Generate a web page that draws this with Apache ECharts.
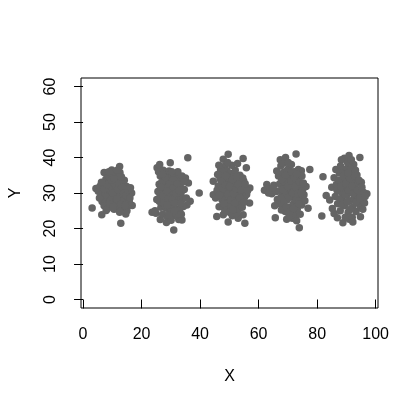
<!DOCTYPE html>
<html>
<head>
<meta charset="utf-8">
<script src="https://cdn.jsdelivr.net/npm/echarts@6/dist/echarts.min.js"></script>
<style>html,body{margin:0;padding:0;background:#fff;}#c{width:418px;height:406px;}</style>
</head>
<body>
<div id="c"></div>
<script>
const xTicks = [0, 20, 40, 60, 80, 100];
const yTicks = [0, 10, 20, 30, 40, 50, 60];
const xTitle = "X";
const yTitle = "Y";

const group10 = [[3.1,25.8],[6.4,23.9],[12.9,21.5],[14.6,24.1],[12.5,37.5],[7.2,35.8],[9.5,35.1],[16.6,30.0],[16.8,26.5],[4.4,31.3],
[5.2,30.5],[5.8,31.9],[6.1,29.4],[6.8,30.8],[7.0,32.6],[7.4,28.2],[7.8,33.9],[8.1,30.1],[8.3,27.0],[8.6,31.7],
[8.9,29.0],[9.1,34.3],[9.3,32.5],[9.6,26.2],[9.8,30.6],[10.0,28.3],[10.2,33.2],[10.4,31.1],[10.6,25.4],[10.8,29.5],
[11.0,35.0],[11.2,27.4],[11.4,32.0],[11.6,30.2],[11.8,33.8],[12.0,26.6],[12.2,28.8],[12.4,31.5],[12.6,35.8],[12.8,27.9],
[13.0,30.9],[13.2,33.0],[13.4,25.9],[13.6,29.2],[13.8,32.1],[14.0,27.1],[14.3,30.4],[14.6,28.4],[14.9,31.8],[15.2,26.3],
[15.5,29.6],[15.8,27.6],[7.6,30.0],[8.0,28.9],[9.0,31.0],[10.5,27.2],[11.1,29.0],[12.1,34.4],[13.3,28.0],[6.5,27.6],
[7.2,26.4],[8.4,25.6],[11.3,25.9],[14.1,33.6],[15.0,25.0],[5.6,28.6],[9.8,36.5],[10.9,32.7],[12.7,29.7],[8.7,34.8],
[7.3,31.2],[8.2,32.4],[9.4,28.0],[9.7,33.6],[10.1,30.0],[10.7,34.0],[11.5,28.3],[11.9,31.0],[12.3,32.7],[12.9,26.8],
[13.5,31.6],[13.9,29.9],[14.4,26.5],[14.8,29.3],[15.4,31.0],[9.2,27.0],[10.3,26.1],[6.3,33.0],[8.8,36.0],[11.7,36.4],
[13.1,34.6],[16.0,28.6],[16.2,31.5],[7.9,25.1],[12.5,24.6]];

const group30 = [[31.0,19.6],[29.8,38.5],[35.8,39.9],[39.7,30.0],[36.0,32.8],[36.6,27.7],[35.5,26.6],[23.6,24.6],[25.3,37.1],[26.2,38.0],
[28.5,21.7],[26.4,22.5],[32.7,22.5],[31.5,23.6],[33.8,22.4],[34.3,26.2],[34.9,33.3],[24.9,24.3],[25.8,36.0],[26.4,34.8],
[26.0,32.5],[26.8,30.8],[26.3,29.0],[27.0,27.4],[26.6,26.0],[27.5,33.6],[27.8,31.6],[28.0,29.8],[28.2,28.0],[28.4,25.7],
[28.7,35.1],[29.0,33.0],[29.2,31.2],[29.5,27.1],[29.7,24.6],[29.9,29.4],[30.2,34.4],[30.4,32.2],[30.6,30.4],[30.8,26.3],
[31.1,28.6],[31.3,35.0],[31.6,33.3],[31.8,31.0],[32.0,25.4],[32.3,29.2],[32.6,34.1],[32.9,27.6],[33.2,32.0],[33.5,30.0],
[33.8,34.8],[34.1,28.4],[27.2,24.0],[28.9,23.2],[30.1,22.3],[26.1,27.6],[27.4,36.4],[25.6,30.4],[29.4,36.2],[31.9,24.2],
[33.0,25.2],[34.6,31.0],[30.9,33.7],[28.3,32.4],[32.4,36.0],[27.9,26.4],[25.2,28.2],[35.0,34.2],
[26.9,33.0],[27.3,29.3],[27.7,27.1],[28.1,34.3],[28.6,30.6],[29.1,28.4],[29.6,32.5],[30.0,25.6],[30.5,28.0],[30.9,31.5],
[31.4,27.2],[31.7,29.9],[32.2,32.6],[32.8,30.7],[33.4,27.0],[27.1,35.3],[28.8,26.6],[30.3,36.0],[26.5,31.6],[29.3,23.8],
[31.2,25.0],[34.4,33.2],[35.3,28.6],[33.6,24.0],[24.6,25.0]];

const group50 = [[49.6,40.9],[47.9,39.5],[54.7,39.7],[55.8,37.1],[57.0,31.4],[56.9,27.2],[55.3,21.5],[54.7,23.9],[53.0,22.9],[49.6,21.8],
[47.9,23.9],[45.7,23.4],[49.1,25.8],[44.5,33.3],[44.5,29.5],[45.3,28.6],[48.5,37.6],[49.2,36.3],[50.4,35.5],[46.2,32.0],
[46.8,34.0],[47.2,30.6],[47.5,28.0],[47.9,32.8],[48.3,35.0],[48.6,30.0],[48.9,27.3],[49.3,33.6],[49.6,31.2],[50.0,29.0],
[50.3,26.4],[50.6,33.0],[50.9,30.6],[51.2,34.8],[51.5,28.4],[51.8,32.0],[52.1,30.2],[52.4,26.8],[52.7,33.6],[53.0,29.4],
[53.3,31.5],[53.6,35.0],[53.9,27.8],[54.2,32.6],[54.5,30.0],[54.9,33.4],[55.2,28.8],[55.6,31.0],[50.2,24.5],[51.0,23.6],
[52.4,24.2],[46.5,26.1],[48.0,26.0],[47.0,36.5],[52.0,36.4],[53.2,25.5],[45.8,30.8],[50.8,37.8],[51.6,31.6],[49.8,34.2],
[48.2,29.2],[53.8,33.8],[54.4,26.0],[55.9,29.6],[46.0,35.2],[52.8,38.3],
[46.6,29.4],[47.3,33.4],[47.7,31.4],[48.1,27.0],[48.7,32.2],[49.0,34.8],[49.4,29.6],[50.1,31.8],[50.5,28.0],[51.1,33.8],
[51.4,29.8],[51.9,27.2],[52.3,31.2],[52.6,34.6],[53.1,32.4],[53.5,28.6],[54.0,30.8],[54.6,34.2],[55.0,27.4],[55.4,32.6],
[56.2,30.6],[48.4,24.6],[49.4,38.6],[46.4,37.8],[51.3,25.2]];

const group70 = [[72.8,41.0],[69.2,40.0],[67.4,39.4],[77.5,36.6],[74.6,36.3],[76.9,25.7],[73.9,20.2],[65.7,23.0],[62.0,30.8],[62.8,32.4],
[75.5,29.5],[71.5,22.9],[72.6,23.6],[63.8,31.0],[64.5,29.8],[65.2,32.2],[66.0,30.4],[66.4,28.2],[66.8,34.8],[67.2,32.6],
[67.6,37.6],[68.0,29.2],[68.2,26.6],[68.5,35.8],[68.8,31.6],[69.1,24.8],[69.4,33.6],[69.7,28.0],[70.0,30.2],[70.2,36.8],
[70.5,26.0],[70.8,32.2],[71.1,34.6],[71.4,28.8],[71.7,24.4],[72.0,30.6],[72.3,36.0],[72.6,27.0],[72.9,33.0],[73.2,25.4],
[73.5,31.4],[73.8,34.2],[74.1,28.4],[74.4,32.4],[74.7,26.6],[75.0,30.8],[67.0,27.0],[68.4,38.4],[69.6,22.6],[70.4,23.4],
[71.2,38.0],[73.0,22.2],[74.2,24.0],[75.8,27.8],[66.2,36.2],[69.0,30.0],[71.0,31.0],[72.4,29.0],[70.6,34.0],[73.6,36.6],
[65.5,26.4],[67.8,25.2],[74.8,34.8],[63.4,30.0],[76.2,31.8],[68.6,33.2],[71.8,26.8],[69.8,36.4],
[67.1,30.6],[67.5,28.6],[67.9,33.8],[68.3,31.0],[68.7,27.6],[69.2,35.0],[69.5,26.0],[69.9,31.8],[70.3,28.8],[70.7,24.8],
[71.0,33.4],[71.3,36.0],[71.6,30.0],[71.9,25.6],[72.2,34.4],[72.5,31.8],[72.8,28.0],[73.1,35.4],[73.4,29.8],[73.7,27.0],
[74.0,33.0],[74.5,30.0],[75.3,32.8],[70.1,38.6],[64.8,31.4]];

const group90 = [[90.9,40.6],[89.3,39.8],[88.3,39.4],[94.6,40.0],[92.5,38.0],[82.0,34.6],[85.8,34.3],[81.6,23.5],[85.8,24.2],[85.2,25.6],
[88.8,21.6],[94.8,23.3],[97.0,29.8],[93.6,35.1],[83.1,29.3],[85.0,31.6],[91.0,22.6],[92.0,23.2],[84.3,28.0],[86.2,29.0],
[86.6,32.4],[87.0,27.0],[87.3,30.6],[87.6,35.6],[87.9,25.0],[88.2,33.2],[88.5,28.6],[88.8,36.4],[89.1,31.2],[89.4,26.4],
[89.7,34.0],[90.0,29.4],[90.3,37.0],[90.6,24.6],[90.9,32.4],[91.2,27.8],[91.5,35.4],[91.8,30.2],[92.1,26.0],[92.4,33.4],
[92.7,28.6],[93.0,31.4],[93.3,24.8],[93.6,29.2],[93.9,32.8],[94.2,27.0],[94.5,30.4],[94.8,26.0],[95.1,33.0],[95.4,28.4],
[95.8,30.2],[96.2,27.2],[86.4,36.6],[89.6,23.2],[90.4,38.6],[91.6,36.8],[93.1,36.4],[88.4,30.2],[92.2,21.8],[86.9,23.0],
[86.8,30.8],[87.4,33.6],[87.8,28.2],[88.1,31.8],[88.6,26.8],[89.0,34.8],[89.5,29.6],[89.8,32.6],[90.2,27.4],[90.7,30.8],
[91.1,34.2],[91.4,25.4],[91.9,32.0],[92.3,29.8],[92.8,34.8],[93.2,27.4],[93.7,30.8],[94.3,33.6],[94.7,28.6],[95.3,31.6],
[95.6,25.4],[96.4,29.0],[90.5,35.6],[88.0,37.6],[91.7,39.4]];

const points = [].concat(group10, group30, group50, group70, group90);

const chart = echarts.init(document.getElementById('c'), null, {renderer: 'canvas'});
const font = 'Liberation Sans, Arial, sans-serif';
chart.setOption({
  animation: false,
  backgroundColor: '#fff',
  grid: {left: 78, top: 78, right: 40, bottom: 98, show: true, borderColor: '#000', borderWidth: 1, backgroundColor: 'transparent'},
  xAxis: {
    type: 'value', min: -0.7, max: 100.8,
    name: xTitle, nameLocation: 'middle', nameGap: 61,
    nameTextStyle: {fontSize: 16, color: '#000', fontFamily: font},
    axisLine: {show: false},
    splitLine: {show: false},
    axisTick: {show: true, length: 9, inside: false, customValues: xTicks, lineStyle: {color: '#000', width: 1}},
    axisLabel: {customValues: xTicks, fontSize: 16, color: '#000', fontFamily: font, margin: 19}
  },
  yAxis: {
    type: 'value', min: -2.4, max: 62.4,
    name: yTitle, nameLocation: 'middle', nameGap: 57, nameRotate: 90,
    nameTextStyle: {fontSize: 16, color: '#000', fontFamily: font},
    axisLine: {show: false},
    splitLine: {show: false},
    axisTick: {show: true, length: 9, inside: false, customValues: yTicks, lineStyle: {color: '#000', width: 1}},
    axisLabel: {customValues: yTicks, fontSize: 16, color: '#000', fontFamily: font, margin: 22, rotate: 90}
  },
  series: [{
    type: 'scatter',
    data: points,
    symbol: 'circle',
    symbolSize: 7.5,
    itemStyle: {color: '#646464', opacity: 1},
    emphasis: {disabled: true}
  }]
});
</script>
</body>
</html>
